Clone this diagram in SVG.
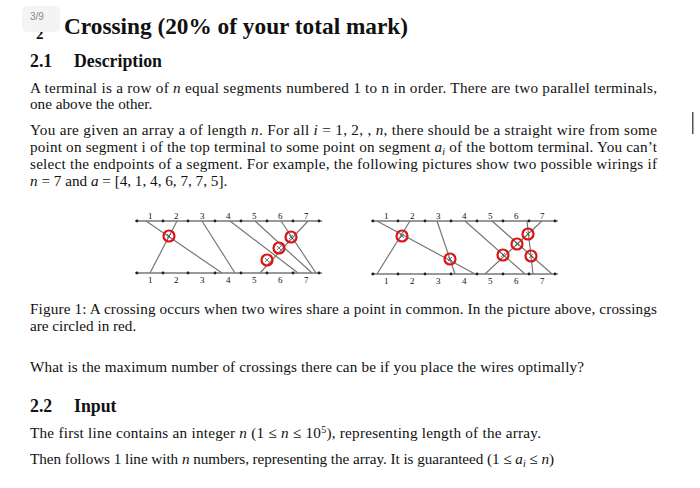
<svg xmlns="http://www.w3.org/2000/svg" width="700" height="488" viewBox="0 0 700 488">
<style>
text{font-family:"Liberation Serif","DejaVu Serif",serif;fill:#111}
.b{font-size:15.2px}
.i{font-style:italic}
.h{font-weight:bold}
.n{font-size:9px;fill:#444}
.rail{stroke:#777;stroke-width:1.5}
.w{stroke:#777;stroke-width:1.2;fill:none}
.c{fill:none;stroke:#d11;stroke-width:2.2}
</style>
<defs>
<g id="x"><circle r="5.5" class="c"/><path d="M-2,-2L2,2M-2,2L2,-2" stroke="#555" stroke-width="0.8"/></g>
<g id="d"><circle r="1.4" fill="#222"/></g>
</defs>
<rect width="700" height="488" fill="#fff"/>
<text x="36" y="39" class="h" font-size="15">2</text>
<rect x="22" y="6" width="38" height="26" rx="5" fill="#f4f4f4"/>
<text x="30" y="20" style="font-family:'Liberation Sans',sans-serif;font-size:10px;fill:#888">3/9</text>
<text x="64" y="34" class="h" font-size="23.3">Crossing (20% of your total mark)</text>
<text x="30" y="67" class="h" font-size="17.8">2.1<tspan x="74">Description</tspan></text>
<text x="30" y="93" class="b" textLength="627">A terminal is a row of <tspan class="i">n</tspan> equal segments numbered 1 to n in order. There are two parallel terminals,</text>
<text x="30" y="109" class="b">one above the other.</text>
<text x="30" y="135" class="b" textLength="627">You are given an array a of length <tspan class="i">n</tspan>. For all <tspan class="i">i</tspan> = 1, 2, , <tspan class="i">n</tspan>, there should be a straight wire from some</text>
<text x="30" y="152" class="b" textLength="627">point on segment i of the top terminal to some point on segment <tspan class="i">a<tspan font-size="10" dy="3">i</tspan></tspan><tspan dy="-3"> of the bottom terminal. You can’t</tspan></text>
<text x="30" y="169" class="b" textLength="627">select the endpoints of a segment. For example, the following pictures show two possible wirings if</text>
<text x="30" y="186" class="b"><tspan class="i">n</tspan> = 7 and <tspan class="i">a</tspan> = [4, 1, 4, 6, 7, 7, 5].</text>
<rect x="692" y="112" width="1.5" height="22" fill="#555"/>

<g id="fig1">
<line x1="135" y1="221" x2="322" y2="221" class="rail"/>
<line x1="135" y1="273" x2="322" y2="273" class="rail"/>
<use href="#d" x="137" y="221"/><use href="#d" x="163" y="221"/><use href="#d" x="188" y="221"/><use href="#d" x="215" y="221"/><use href="#d" x="241" y="221"/><use href="#d" x="267" y="221"/><use href="#d" x="293" y="221"/><use href="#d" x="319" y="221"/>
<use href="#d" x="137" y="273"/><use href="#d" x="163" y="273"/><use href="#d" x="188" y="273"/><use href="#d" x="215" y="273"/><use href="#d" x="241" y="273"/><use href="#d" x="267" y="273"/><use href="#d" x="293" y="273"/><use href="#d" x="319" y="273"/>
<g class="n"><text x="148" y="219">1</text><text x="174" y="219">2</text><text x="200" y="219">3</text><text x="226" y="219">4</text><text x="252" y="219">5</text><text x="278" y="219">6</text><text x="304" y="219">7</text>
<text x="148" y="283">1</text><text x="174" y="283">2</text><text x="200" y="283">3</text><text x="226" y="283">4</text><text x="252" y="283">5</text><text x="278" y="283">6</text><text x="304" y="283">7</text></g>
</g>
<g id="fig2">
<line x1="371" y1="221" x2="558" y2="221" class="rail"/>
<line x1="371" y1="274" x2="558" y2="274" class="rail"/>
<use href="#d" x="373" y="221"/><use href="#d" x="398" y="221"/><use href="#d" x="425" y="221"/><use href="#d" x="451" y="221"/><use href="#d" x="477" y="221"/><use href="#d" x="503" y="221"/><use href="#d" x="529" y="221"/><use href="#d" x="555" y="221"/>
<use href="#d" x="373" y="274"/><use href="#d" x="398" y="274"/><use href="#d" x="425" y="274"/><use href="#d" x="451" y="274"/><use href="#d" x="477" y="274"/><use href="#d" x="503" y="274"/><use href="#d" x="529" y="274"/><use href="#d" x="555" y="274"/>
<g class="n"><text x="384" y="219">1</text><text x="410" y="219">2</text><text x="436" y="219">3</text><text x="462" y="219">4</text><text x="488" y="219">5</text><text x="514" y="219">6</text><text x="540" y="219">7</text>
<text x="384" y="284">1</text><text x="410" y="284">2</text><text x="436" y="284">3</text><text x="462" y="284">4</text><text x="488" y="284">5</text><text x="514" y="284">6</text><text x="540" y="284">7</text></g>
</g>
<g id="connectors">
<path class="w" d="M146,221L222,273M177,221L150,273M202,221L235,273M230,221L298,273M255,221L312,273M281,221L316,273M308,221L260,273"/>
<path class="w" d="M377,221L475,274M410,221L377,274M437,221L455,274M465,221L525,274M492,221L552,274M527,221L533,274M542,221L485,274"/>
</g>
<g id="crossings">
<use href="#x" x="169" y="236"/><use href="#x" x="267" y="260"/><use href="#x" x="279" y="248"/><use href="#x" x="291" y="237"/>
<use href="#x" x="402" y="236"/><use href="#x" x="450" y="259"/><use href="#x" x="503" y="255"/><use href="#x" x="517" y="244"/><use href="#x" x="528" y="234"/><use href="#x" x="531" y="256"/>
</g>

<text x="30" y="314" class="b" textLength="627">Figure 1: A crossing occurs when two wires share a point in common. In the picture above, crossings</text>
<text x="30" y="331" class="b">are circled in red.</text>
<text x="30" y="372" class="b" textLength="554">What is the maximum number of crossings there can be if you place the wires optimally?</text>
<text x="30" y="412" class="h" font-size="17.8">2.2<tspan x="74">Input</tspan></text>
<text x="30" y="438" class="b" textLength="511">The first line contains an integer <tspan class="i">n</tspan> (1 ≤ <tspan class="i">n</tspan> ≤ 10<tspan font-size="10" dy="-5">5</tspan><tspan dy="5">), representing length of the array.</tspan></text>
<text x="30" y="464" class="b" textLength="524">Then follows 1 line with <tspan class="i">n</tspan> numbers, representing the array. It is guaranteed (1 ≤ <tspan class="i">a<tspan font-size="10" dy="3">i</tspan></tspan><tspan dy="-3"> ≤ </tspan><tspan class="i">n</tspan>)</text>
</svg>
